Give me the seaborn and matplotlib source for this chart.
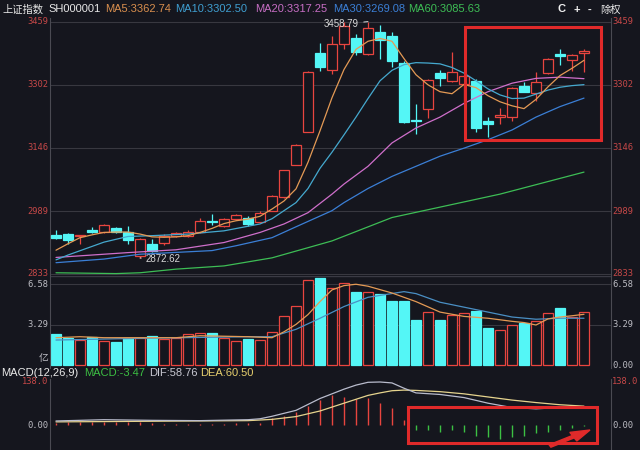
import numpy as np
import pandas as pd
import matplotlib
matplotlib.use("Agg")
import matplotlib.pyplot as plt
import seaborn as sns
from matplotlib.patches import Rectangle, FancyArrow

# ---------------- data ----------------
opens  = [2930, 2932, 2926, 2941, 2937, 2948, 2938, 2878, 2908, 2911, 2927, 2927, 2936, 2965, 2952,
          2969, 2971, 2963, 2990, 3024, 3104, 3186, 3381, 3339, 3404, 3418, 3379, 3434, 3422, 3355,
          3215, 3242, 3331, 3312, 3304, 3311, 3213, 3223, 3221, 3298, 3282, 3331, 3379, 3364, 3381]
closes = [2923, 2918, 2929, 2936, 2955, 2938, 2917, 2919, 2890, 2927, 2934, 2938, 2965, 2961, 2969,
          2979, 2958, 2983, 3026, 3090, 3153, 3333, 3345, 3404, 3449, 3383, 3442, 3414, 3360, 3209,
          3212, 3314, 3319, 3333, 3325, 3195, 3205, 3228, 3294, 3285, 3310, 3366, 3374, 3377, 3385]
highs  = [2941, 2934, 2930, 2950, 2956, 2950, 2953, 2921, 2920, 2931, 2937, 2941, 2971, 2982, 2971,
          2981, 2976, 2990, 3028, 3092, 3155, 3336, 3406, 3424, 3457, 3428, 3458.79, 3451, 3432, 3362,
          3255, 3316, 3340, 3383, 3327, 3317, 3221, 3245, 3296, 3308, 3333, 3368, 3391, 3379, 3391]
lows   = [2919, 2908, 2907, 2934, 2935, 2934, 2908, 2872.62, 2888, 2905, 2925, 2925, 2934, 2954, 2950,
          2967, 2952, 2961, 2988, 3022, 3102, 3184, 3336, 3330, 3392, 3375, 3375, 3366, 3346, 3207,
          3181, 3220, 3300, 3310, 3255, 3184, 3173, 3206, 3213, 3283, 3263, 3329, 3351, 3337, 3333]
volumes = [2.52, 2.20, 2.03, 2.28, 1.95, 1.87, 2.20, 2.20, 2.36, 2.11, 2.20, 2.52, 2.58, 2.60, 2.20,
           1.95, 2.11, 2.03, 2.66, 4.00, 4.80, 6.90, 7.05, 6.24, 6.64, 5.91, 5.91, 5.75, 5.20, 5.20,
           3.66, 4.33, 3.66, 4.07, 4.20, 4.39, 3.03, 2.85, 3.25, 3.44, 3.58, 4.20, 4.61, 3.93, 4.28]

ma5_idx = list(range(45))
ma5 = [2892, 2908, 2923, 2930, 2936, 2937, 2937, 2932, 2925, 2924, 2925, 2928, 2936, 2946, 2958,
       2965, 2969, 2976, 2994, 3014, 3044, 3110, 3188, 3270, 3340, 3390, 3410, 3417, 3410, 3367,
       3327, 3302, 3285, 3280, 3303, 3295, 3275, 3260, 3250, 3243, 3266, 3297, 3325, 3343, 3362.74]
ma10_idx = [0, 1, 4, 6, 8, 11, 14, 17, 18, 19, 20, 21, 22, 23, 24, 25, 26, 27, 28, 29, 30, 31, 32,
            33, 34, 35, 36, 37, 38, 39, 40, 41, 42, 43, 44]
ma10 = [2868, 2880, 2912, 2926, 2928, 2932, 2940, 2957, 2970, 2990, 3010, 3045, 3095, 3135, 3178,
        3222, 3268, 3312, 3338, 3352, 3357, 3356, 3354, 3345, 3331, 3312, 3292, 3277, 3268, 3269,
        3279, 3289, 3296, 3300, 3302.5]
ma20_idx = [0, 3, 6, 10, 14, 17, 19, 21, 23, 24, 26, 28, 30, 32, 34, 36, 38, 40, 42, 44]
ma20 = [2874, 2880, 2886, 2893, 2911, 2936, 2957, 2985, 3031, 3056, 3100, 3158, 3195, 3222, 3256,
        3285, 3306, 3318, 3321, 3317.25]
ma30_idx = [0, 4, 7, 13, 15, 18, 20, 23, 24, 26, 28, 30, 32, 34, 36, 38, 40, 42, 44]
ma30 = [2861, 2870, 2882, 2891, 2903, 2923, 2950, 2990, 3010, 3045, 3075, 3100, 3125, 3145, 3166,
        3190, 3222, 3248, 3269.08]
ma60_idx = [0, 5, 7, 10, 14, 18, 23, 28, 37, 44]
ma60 = [2836, 2834, 2836, 2845, 2853, 2873, 2915, 2973, 3031, 3085.63]

vma5_idx = [0, 2, 4, 10, 12, 16, 18, 19, 20, 21, 22, 23, 24, 25, 26, 28, 30, 32, 34, 36, 38, 39,
            40, 41, 42, 43, 44]
vma5 = [2.22, 2.30, 2.22, 2.22, 2.38, 2.30, 2.22, 2.70, 3.30, 4.10, 5.15, 6.10, 6.45, 6.56, 6.40,
        5.85, 5.15, 4.30, 3.95, 3.80, 3.55, 3.45, 3.25, 3.75, 3.90, 4.00, 4.12]
vma10_idx = [0, 7, 16, 18, 20, 22, 24, 26, 29, 30, 32, 34, 36, 38, 40, 42, 44]
vma10 = [2.03, 2.17, 2.30, 2.30, 2.90, 3.80, 4.75, 5.50, 5.96, 5.80, 5.10, 4.70, 4.30, 3.90, 3.72,
         3.80, 3.80]

dif_idx = [0, 4, 8, 12, 16, 17, 18, 20, 22, 24, 25, 26, 27, 28, 29, 30, 32, 34, 36, 38, 40, 42, 44]
dif = [13, 17, 15, 14, 17, 20, 28, 47, 85, 115, 128, 137, 138, 135, 118, 103, 98, 88, 70, 56, 52,
       56, 58.76]
dea_idx = [0, 8, 16, 18, 20, 22, 24, 26, 27, 28, 29, 30, 32, 34, 36, 38, 40, 42, 44]
dea = [10, 12, 14, 18, 27, 45, 70, 95, 103, 110, 112, 111, 107, 100, 90, 80, 72, 65, 60.5]
macd_hist = [8, 9, 9, 10, 11, 11, 10, 9, 6, 4, 3, 3, 3, 4, 4, 5, 5, 6, 22, 29, 41, 60, 79, 97, 91,
             85, 87, 72, 54, 16, -15, -15, -21, -15, -21, -34, -40, -46, -40, -34, -27, -21, -15,
             -9, -3.47]

price_ticks = [3459, 3302, 3146, 2989, 2833]
vol_ticks = [6.58, 3.29]
macd_ticks = [138.0, 0.0]

# ---------------- style ----------------
BG = "#15161e"
RED = "#e8453f"
CYAN = "#54f6f6"
GRID = "#383840"
C_MA5, C_MA10, C_MA20, C_MA30, C_MA60 = "#e49a55", "#45a9cf", "#cf6fcb", "#3b7fd6", "#3dbd55"

sns.set_theme(style="dark", rc={"axes.facecolor": BG, "figure.facecolor": BG,
                                "axes.edgecolor": "#4a4a52", "grid.color": GRID})
plt.rcParams["font.family"] = ["Liberation Sans", "Noto Sans CJK SC", "DejaVu Sans"]

W, H = 640, 450
fig = plt.figure(figsize=(6.4, 4.5), dpi=100)


def box(l, t, r, b):
    return [l / W, 1 - b / H, (r - l) / W, (b - t) / H]


ax_p = fig.add_axes(box(50, 18, 611, 276))
ax_v = fig.add_axes(box(50, 276, 611, 368))
ax_m = fig.add_axes(box(50, 379, 611, 450))

n = len(closes)
x = np.arange(n)
XL = (-0.5, 46.25)

df = pd.DataFrame({"x": x, "open": opens, "close": closes, "high": highs, "low": lows, "vol": volumes})
up = df["close"] >= df["open"]

for ax in (ax_p, ax_v, ax_m):
    ax.set_xlim(*XL)
    ax.set_xticks([])
    ax.set_yticks([])
    for s in ("top", "bottom"):
        ax.spines[s].set_visible(False)
    for s in ("left", "right"):
        ax.spines[s].set_color("#4a4a52")
        ax.spines[s].set_linewidth(0.8)
    ax.grid(False)

ax_p.set_ylim(2828, 3467.7)
ax_v.set_ylim(-0.24, 7.23)
ax_m.set_ylim(-80.2, 147.6)

# grid lines
for t in price_ticks:
    ax_p.axhline(t, color=GRID, lw=0.8, zorder=0)
for t in vol_ticks:
    ax_v.axhline(t, color=GRID, lw=0.8, zorder=0)
ax_v.axhline(7.23, color="#3a3a44", lw=1.0, zorder=0)

# ---------------- candles ----------------
body_w = 0.82
for i, r in df.iterrows():
    col = RED if up[i] else CYAN
    lo_b, hi_b = min(r.open, r.close), max(r.open, r.close)
    ax_p.vlines(r.x, r.low, lo_b, color=col, lw=0.9, zorder=2)
    ax_p.vlines(r.x, hi_b, r.high, color=col, lw=0.9, zorder=2)
    h = max(hi_b - lo_b, 1.2)
    ax_p.bar(r.x, h, bottom=lo_b, width=body_w, facecolor=BG if up[i] else CYAN,
             edgecolor=col, linewidth=0.9, zorder=3)
    ax_v.bar(r.x, r.vol, width=body_w, facecolor=BG if up[i] else CYAN,
             edgecolor=col, linewidth=0.9, zorder=2)

# MA lines
for idx, vals, c in [(ma60_idx, ma60, C_MA60), (ma30_idx, ma30, C_MA30), (ma20_idx, ma20, C_MA20),
                     (ma10_idx, ma10, C_MA10), (ma5_idx, ma5, C_MA5)]:
    sns.lineplot(x=idx, y=vals, ax=ax_p, color=c, lw=0.9, zorder=4)

sns.lineplot(x=vma10_idx, y=vma10, ax=ax_v, color="#4a8fc4", lw=0.9, zorder=4)
sns.lineplot(x=vma5_idx, y=vma5, ax=ax_v, color=C_MA5, lw=0.9, zorder=4)

# MACD
hist_cols = [RED if v >= 0 else "#3cc043" for v in macd_hist]
ax_m.vlines(x, 0, macd_hist, colors=hist_cols, lw=1.0, zorder=2)
sns.lineplot(x=dea_idx, y=dea, ax=ax_m, color="#e6d48e", lw=0.9, zorder=3)
sns.lineplot(x=dif_idx, y=dif, ax=ax_m, color="#b9bccd", lw=0.9, zorder=3)

for ax in (ax_p, ax_v, ax_m):
    ax.set_xlabel("")
    ax.set_ylabel("")
    ax.set_xlim(*XL)

# ---------------- tick labels ----------------
TF = dict(family=["DejaVu Sans Mono"], fontsize=6.3)
for t in price_ticks:
    for xx, ha in ((-0.003, "right"), (1.002, "left")):
        ax_p.text(xx, t, f"{t}", transform=ax_p.get_yaxis_transform(), ha=ha, va="center",
                  color="#c64848", **TF)
for t in vol_ticks:
    for xx, ha in ((-0.003, "right"), (1.002, "left")):
        ax_v.text(xx, t, f"{t:.2f}", transform=ax_v.get_yaxis_transform(), ha=ha, va="center",
                  color="#bdbdc4", **TF)
ax_v.text(-0.003, 0.55, "亿", transform=ax_v.get_yaxis_transform(), ha="right", va="center",
          color="#bdbdc4", family=["Noto Sans CJK SC"], fontsize=7)
ax_v.text(1.002, 0.0, "0.00", transform=ax_v.get_yaxis_transform(), ha="left", va="center",
          color="#bdbdc4", **TF)
for xx, ha in ((-0.003, "right"), (1.002, "left")):
    ax_m.text(xx, 138.0, "138.0", transform=ax_m.get_yaxis_transform(), ha=ha, va="center",
              color="#c64848", **TF)
    ax_m.text(xx, 0.0, "0.00", transform=ax_m.get_yaxis_transform(), ha=ha, va="center",
              color="#bdbdc4", **TF)

# high / low annotations
ax_p.annotate("3458.79", xy=(26, 3458.79), xytext=(23.8, 3452), color="#d8d8d8", fontsize=7,
              ha="center", va="center",
              arrowprops=dict(arrowstyle="-", color="#d8d8d8", lw=0.7, shrinkA=1, shrinkB=0))
ax_p.annotate("2872.62", xy=(7, 2872.62), xytext=(8.95, 2871), color="#d8d8d8", fontsize=7,
              ha="center", va="center",
              arrowprops=dict(arrowstyle="-", color="#d8d8d8", lw=0.7, shrinkA=1, shrinkB=0))

# ---------------- header ----------------
HF = dict(fontsize=8, va="center", transform=fig.transFigure)
hy = 1 - 9.5 / H
fig.text(2 / W, hy, "上证指数", color="#e8e8e8", family=["Noto Sans CJK SC"], fontsize=7.4,
         va="center", transform=fig.transFigure)
fig.text(48 / W, hy, "SH000001", color="#e8e8e8", **HF)
fig.text(105 / W, hy, "MA5:3362.74", color="#d98f4e", **HF)
fig.text(175 / W, hy, "MA10:3302.50", color="#3f9ed0", **HF)
fig.text(255 / W, hy, "MA20:3317.25", color="#c76ec4", **HF)
fig.text(333 / W, hy, "MA30:3269.08", color="#3b7fd6", **HF)
fig.text(408 / W, hy, "MA60:3085.63", color="#3dbd55", **HF)
fig.text(557 / W, hy, "C", color="#f0f0f0", fontweight="bold", **HF)
fig.text(573 / W, hy, "+", color="#f0f0f0", fontweight="bold", **HF)
fig.text(588 / W, hy, "-", color="#f0f0f0", fontweight="bold", **HF)
fig.text(600 / W, hy, "除权", color="#e8e8e8", family=["Noto Sans CJK SC"], fontsize=7.4,
         va="center", transform=fig.transFigure)

my = 1 - 373 / H
fig.text(1 / W, my, "MACD(12,26,9)", color="#e8e8e8", **HF)
fig.text(84 / W, my, "MACD:-3.47", color="#3cc043", **HF)
fig.text(149 / W, my, "DIF:58.76", color="#c8c8d2", **HF)
fig.text(200 / W, my, "DEA:60.50", color="#e6cf6e", **HF)

# ---------------- red highlight boxes ----------------
def fig_rect(l, t, r, b):
    fig.patches.append(Rectangle((l / W, 1 - b / H), (r - l) / W, (b - t) / H,
                                 transform=fig.transFigure, fill=False, edgecolor="#e02a2a",
                                 lw=2.2, zorder=10))


fig_rect(465, 27, 601, 140)
fig_rect(408, 407, 597, 443)
fig.patches.append(FancyArrow(550 / W, 1 - 446 / H, 40 / W, 16 / H, width=0.006,
                              head_width=0.022, head_length=0.03, length_includes_head=True,
                              transform=fig.transFigure, color="#e02a2a", zorder=11))

fig.savefig("out.png", dpi=100, facecolor=BG)
